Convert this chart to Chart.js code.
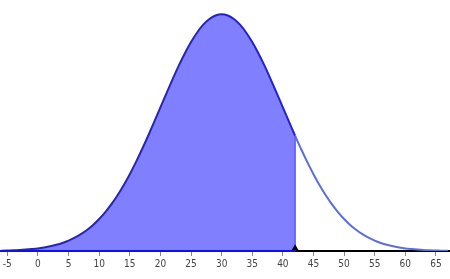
<!DOCTYPE html>
<html><head><meta charset="utf-8">
<script src="https://cdn.jsdelivr.net/npm/chart.js@4/dist/chart.umd.min.js"></script>
<style>html,body{margin:0;padding:0;background:#fff}#wrap{width:450px;height:279px}</style>
</head><body><div id="wrap"><canvas id="c"></canvas></div>
<script>
// x positions of curve samples
const xs = [-6,-5,-4,-3,-2,-1,0,1,2,3,4,5,6,7,8,9,10,11,12,13,14,15,16,17,18,19,20,21,22,23,24,25,26,27,28,29,30,31,32,33,34,35,36,37,38,39,40,41,42,43,44,45,46,47,48,49,50,51,52,53,54,55,56,57,58,59,60,61,62,63,64,65,66,67];
// density (x1000)
const density = [0.06,0.09,0.12,0.17,0.24,0.33,0.44,0.60,0.79,1.04,1.36,1.75,2.24,2.83,3.55,4.40,5.40,6.56,7.90,9.40,11.09,12.95,14.97,17.14,19.42,21.79,24.20,26.61,28.97,31.23,33.32,35.21,36.83,38.14,39.10,39.69,39.89,39.69,39.10,38.14,36.83,35.21,33.32,31.23,28.97,26.61,24.20,21.79,19.42,17.14,14.97,12.95,11.09,9.40,7.90,6.56,5.40,4.40,3.55,2.83,2.24,1.75,1.36,1.04,0.79,0.60,0.44,0.33,0.24,0.17,0.12,0.09,0.06,0.04];
const cutoff = 42;
const tickValues = [-5,0,5,10,15,20,25,30,35,40,45,50,55,60,65];
const xMin = -6.2, xMax = 67.3;

const pts = xs.map((x,i)=>({x, y: density[i]}));
const left = pts.filter(p=>p.x<=cutoff);
const right = pts.filter(p=>p.x>=cutoff);
const cutY = density[xs.indexOf(cutoff)];

new Chart(document.getElementById('c'), {
  type: 'line',
  data: { datasets: [
    { order:5, data: left, borderColor:'#2323c8', backgroundColor:'#8080ff', fill:'origin', borderWidth:2, pointRadius:0, cubicInterpolationMode:'monotone' },
    { order:4, data: right, borderColor:'#5b6fd9', fill:false, borderWidth:2, pointRadius:0, cubicInterpolationMode:'monotone' },
    { order:3, data: [{x:cutoff,y:cutY},{x:cutoff,y:0}], borderColor:'#5a5aff', borderWidth:1.5, pointRadius:0, fill:false, tension:0 },
    { order:2, data: [{x:xMin,y:0},{x:cutoff,y:0}], borderColor:'#1010ee', borderWidth:2, pointRadius:0, fill:false, tension:0, clip:false },
    { order:1, data: [{x:cutoff,y:0.45}], pointStyle:'triangle', pointRadius:4, pointBackgroundColor:'#000', pointBorderColor:'#000', pointBorderWidth:0, showLine:false, clip:false }
  ]},
  options: {
    responsive:true, maintainAspectRatio:false, animation:false,
    layout:{autoPadding:false, padding:{left:0,right:0,top:0,bottom:7}},
    plugins:{legend:{display:false}, tooltip:{enabled:false}},
    scales:{
      x:{ type:'linear', min:xMin, max:xMax,
        afterBuildTicks: s => { s.ticks = tickValues.map(v=>({value:v})); },
        afterFit: s => { s.paddingLeft = 0; s.paddingRight = 0; },
        ticks:{ autoSkip:false, maxRotation:0, color:'#444', font:{family:'"Liberation Sans Narrow","DejaVu Sans Condensed","Liberation Sans",Arial', size:10}, padding:2 },
        grid:{ drawOnChartArea:false, drawTicks:true, tickLength:5, color:'#888' },
        border:{ display:true, color:'#000', width:2 }
      },
      y:{ display:false, min:0, max:42.3 }
    }
  }
});
</script></body></html>
